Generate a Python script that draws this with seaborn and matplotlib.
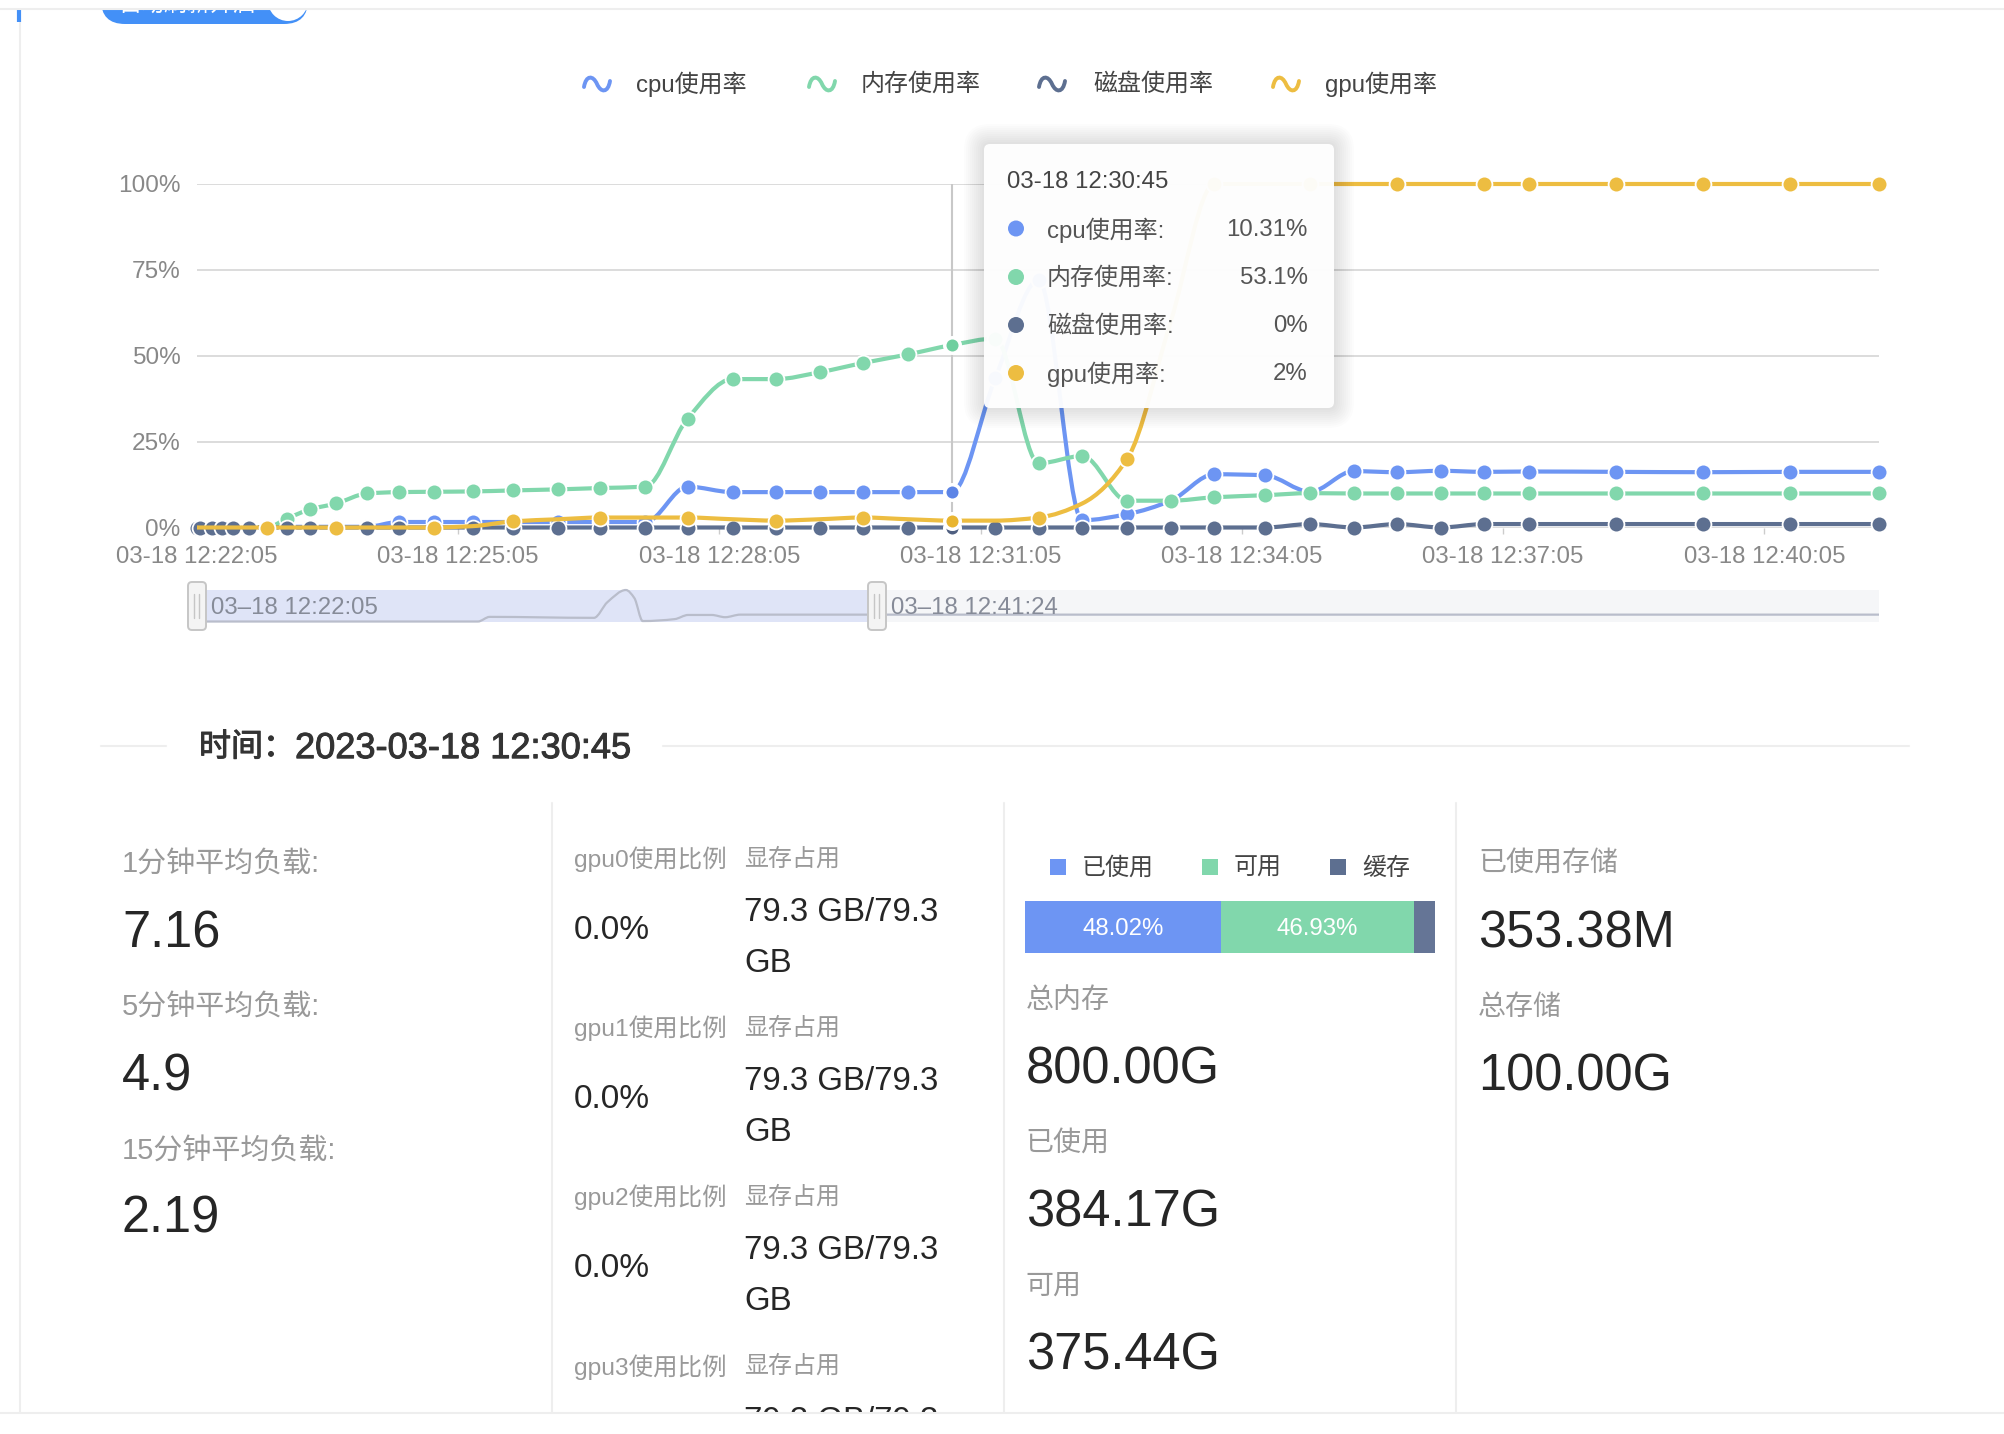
import matplotlib
matplotlib.use('Agg')
import matplotlib.pyplot as plt
import matplotlib.patheffects as pe
import pandas as pd
import seaborn as sns
from matplotlib.patches import FancyBboxPatch, PathPatch, Rectangle, Circle
from matplotlib.path import Path

W, H = 2004, 1434

# seconds after 12:22:05
times = [0, 2, 10, 17, 25, 36, 48, 62, 78, 96, 117, 139, 163, 190, 218, 249, 278, 309, 338, 369,
         399, 429, 459, 490, 520, 550, 580, 610, 641, 671, 701, 736, 767, 797, 827, 857, 887, 918,
         978, 1038, 1098, 1159]
cpu = [0, 0, 0, 0, 0, 0, 0, 0.2, 0.2, 0.2, 0.2, 1.6, 1.6, 1.6, 1.6, 1.6, 1.6, 1.6, 11.9, 10.3,
       10.3, 10.3, 10.3, 10.3, 10.31, 43.4, 72, 2.1, 3.9, 7.8, 15.5, 15.2, 10.4, 16.4, 16.1, 16.5,
       16.2, 16.3, 16.2, 16.1, 16.2, 16.2]
mem = [0, 0, 0, 0, 0, 0, 0, 2.6, 5.3, 7.0, 9.9, 10.3, 10.4, 10.5, 10.8, 11.1, 11.5, 11.9, 31.7,
       43.2, 43.2, 45.2, 47.9, 50.4, 53.1, 55, 18.7, 20.8, 7.8, 7.8, 8.8, 9.4, 10, 9.9, 9.9, 9.9,
       9.9, 9.9, 9.9, 9.9, 9.9, 9.9]
disk = [0] * 32 + [1, 0, 1, 0, 1, 1, 1, 1, 1, 1]
gpu = [0, 0, 0, 0, 0, 0, 0, 0, 0, 0, 0, 0, 0, 0.4, 1.8, 2.4, 2.9, 2.9, 2.9, 2.4, 2, 2.4, 2.9, 2.4,
       2, 2, 2.9, 7, 20, 60, 100, 100, 100, 100, 100, 100, 100, 100, 100, 100, 100, 100]
# gpu only shows a symbol on some samples
gpu_marked = [6, 9, 12, 14, 16, 18, 20, 22, 24, 26, 28, 30, 32, 34, 36, 37, 38, 39, 40, 41]
hover_idx = 24

x_ticks = [0, 180, 360, 540, 720, 900, 1080]
x_labels = ['03-18 12:22:05', '03-18 12:25:05', '03-18 12:28:05', '03-18 12:31:05',
            '03-18 12:34:05', '03-18 12:37:05', '03-18 12:40:05']
y_ticks = [0, 25, 50, 75, 100]
y_labels = ['0%', '25%', '50%', '75%', '100%']

series_names = ['cpu使用率', '内存使用率', '磁盘使用率', 'gpu使用率']
tooltip_values = ['10.31%', '53.1%', '0%', '2%']

# overview strip under the chart (percent along strip, percent of strip height)
preview_pos = [0, 16.7, 17.4, 23.6, 24.4, 25.5, 26, 26.5, 28.4, 29.2, 30.6, 31.4, 32.3, 39.9, 100]
preview_val = [1.5, 1.5, 16, 13, 62, 100, 75, 3, 9, 22, 22, 15, 23, 23, 23]

mem_used, mem_free, mem_cache = 48.02, 46.93, 5.05

BLUE = '#6d95f3'
GREEN = '#81d7ac'
DARK = '#5d6f90'
YELLOW = '#edbd41'
COLORS = [BLUE, GREEN, DARK, YELLOW]
HOVER_COLORS = ['#5c84e6', '#70cf9f', '#4f5f80', '#e9b52f']
GREY_LABEL = '#999999'
BLACK = '#262626'
FONT = ['Liberation Sans', 'Noto Sans CJK SC']

sns.set_theme(style='white')
plt.rcParams['font.family'] = FONT
plt.rcParams['axes.unicode_minus'] = False


def axes_px(fig, x0, y0, x1, y1, zorder=1):
    """Axes placed by pixel box, y counted from the top."""
    ax = fig.add_axes([x0 / W, 1 - y1 / H, (x1 - x0) / W, (y1 - y0) / H], zorder=zorder)
    ax.patch.set_alpha(0)
    return ax


def tangents(xs, ys):
    """Monotone tangents, flat at local peaks and at both ends."""
    n = len(xs)
    slopes = [(ys[i + 1] - ys[i]) / (xs[i + 1] - xs[i]) for i in range(n - 1)]
    out = [0.0] * n
    for i in range(1, n - 1):
        a, b = slopes[i - 1], slopes[i]
        if a * b > 0:
            h0, h1 = xs[i] - xs[i - 1], xs[i + 1] - xs[i]
            w0, w1 = 2 * h1 + h0, h1 + 2 * h0
            out[i] = (w0 + w1) / (w0 / a + w1 / b)
    return out


def smooth_path(xs, ys):
    """Bezier path through the samples."""
    m = tangents(xs, ys)
    verts = [(xs[0], ys[0])]
    codes = [Path.MOVETO]
    for i in range(len(xs) - 1):
        h = (xs[i + 1] - xs[i]) / 3
        verts += [(xs[i] + h, ys[i] + m[i] * h), (xs[i + 1] - h, ys[i + 1] - m[i + 1] * h),
                  (xs[i + 1], ys[i + 1])]
        codes += [Path.CURVE4] * 3
    return Path(verts, codes)


def label(ax, x, y, s, px, color=BLACK, ha='left', weight='normal', zorder=3):
    # y is the visual centre, text boxes sit a bit high
    return ax.text(x, y + px * 0.1, s, fontsize=px * 0.72, color=color, ha=ha, va='center',
                   fontweight=weight, zorder=zorder)


fig = plt.figure(figsize=(W / 100, H / 100), dpi=100, facecolor='white')

bg = axes_px(fig, 0, 0, W, H, zorder=0)
bg.set_xlim(0, W)
bg.set_ylim(H, 0)
bg.axis('off')

# page frame and the cut off switch at the top
bg.add_patch(FancyBboxPatch((101, -30), 207, 54, boxstyle='round,pad=0,rounding_size=24',
                            fc='#4390f7', ec='none', zorder=1))
bg.add_patch(Circle((288, 1), 20, fc='white', ec='none', zorder=2))
label(bg, 118, 2, '自动刷新开启', 23, color='white', zorder=2)
bg.add_patch(Rectangle((0, 0), W, 8, fc='white', ec='none', zorder=4))
bg.plot([0, W], [8.5, 8.5], color='#eeeeee', lw=1.5, zorder=5)
bg.plot([20, 20], [22, 1413], color='#eeeeee', lw=1.5, zorder=1)
bg.plot([19, 19], [9, 22], color='#4390f7', lw=3, zorder=1, solid_capstyle='butt')

# legend row
legend_icon_x = [584, 809, 1039, 1273]
legend_text_x = [636, 861, 1093, 1325]
for name, color, ix, tx in zip(series_names, COLORS, legend_icon_x, legend_text_x):
    yc = 84
    icon = Path([(ix, yc + 3), (ix + 2, yc - 9), (ix + 9, yc - 9), (ix + 13, yc),
                 (ix + 17, yc + 9), (ix + 24, yc + 9), (ix + 26, yc - 3)],
                [Path.MOVETO] + [Path.CURVE4] * 6)
    bg.add_patch(PathPatch(icon, fc='none', ec=color, lw=2.8, capstyle='round'))
    label(bg, tx, yc - 2, name, 24, color='#444444')

# main chart
ax = axes_px(fig, 197, 184, 1879, 527.5, zorder=1)
ax.set_xlim(0, 1159)
ax.set_ylim(0, 100)
ax.set_xticks(x_ticks)
ax.set_xticklabels(x_labels)
ax.set_yticks(y_ticks)
ax.set_yticklabels(y_labels)
ax.tick_params(axis='x', length=4, width=1, color='#cccccc', labelsize=17.3, labelcolor='#888888',
               pad=9, bottom=True)
ax.tick_params(axis='y', length=0, labelsize=17.6, labelcolor='#888888', pad=12)
ax.grid(axis='y', color='#dcdcdc', lw=1.4)
ax.grid(axis='x', visible=False)
ax.set_axisbelow(True)
sns.despine(ax=ax, left=True, bottom=True)
ax.axvline(times[hover_idx], color='#c8c8c8', lw=1.5, zorder=1)

frames = {}
for name, values in zip(series_names, [cpu, mem, disk, gpu]):
    frames[name] = pd.DataFrame({'time': times, 'value': values})

for i, (name, color, hover) in enumerate(zip(series_names, COLORS, HOVER_COLORS)):
    df = frames[name]
    base = 3 + i * 2
    ax.add_patch(PathPatch(smooth_path(df['time'].tolist(), df['value'].tolist()), fc='none', ec=color,
                           lw=3.0, clip_on=False, zorder=base))
    shown = df.iloc[gpu_marked] if name == 'gpu使用率' else df
    sns.scatterplot(data=shown.drop(index=hover_idx), x='time', y='value', ax=ax, color=color, s=130,
                    edgecolor='white', linewidth=1.3, clip_on=False, zorder=base + 1, legend=False)
    sns.scatterplot(data=df.iloc[[hover_idx]], x='time', y='value', ax=ax, color=hover, s=125,
                    edgecolor='white', linewidth=2.5, clip_on=False, zorder=base + 1, legend=False)
ax.set_xlabel('')
ax.set_ylabel('')

# overview strip
strip = axes_px(fig, 197, 590, 1879, 622, zorder=2)
strip.set_xlim(0, 100)
strip.set_ylim(0, 100)
strip.axis('off')
strip.axvspan(0, 100, color='#f5f6f8', lw=0)
strip.axvspan(0, 40.4, color='#dfe4f7', lw=0)
strip.add_patch(PathPatch(smooth_path(preview_pos, preview_val), fc='none', ec='#b9bdcb', lw=1.6,
                          clip_on=False))

fg = axes_px(fig, 0, 0, W, H, zorder=5)
fg.set_xlim(0, W)
fg.set_ylim(H, 0)
fg.axis('off')

for hx0, hx1 in [(188, 206), (868, 886)]:
    fg.add_patch(FancyBboxPatch((hx0, 582), hx1 - hx0, 48, boxstyle='round,pad=0,rounding_size=4',
                                fc='#f4f4f4', ec='#c6c6c6', lw=1.4))
    mid = (hx0 + hx1) / 2
    fg.plot([mid - 2.5, mid - 2.5], [594, 618], color='#c6c6c6', lw=1)
    fg.plot([mid + 2.5, mid + 2.5], [594, 618], color='#c6c6c6', lw=1)
label(fg, 211, 606, '03–18 12:22:05', 24, color='#868b98')
label(fg, 891, 606, '03–18 12:41:24', 24, color='#868b98')

# tooltip with a soft shadow
tx0, ty0, tx1, ty1 = 984, 144, 1334, 408
for grow in range(2, 22, 2):
    fg.add_patch(FancyBboxPatch((tx0 - grow, ty0 - grow), tx1 - tx0 + 2 * grow, ty1 - ty0 + 2 * grow,
                                boxstyle='round,pad=0,rounding_size=%d' % (6 + grow), fc='black', ec='none',
                                alpha=0.012))
fg.add_patch(FancyBboxPatch((tx0, ty0), tx1 - tx0, ty1 - ty0, boxstyle='round,pad=0,rounding_size=6',
                            fc='white', ec='none', alpha=0.96))
label(fg, 1007, 180, '03-18 12:30:45', 24, color='#444444')
row_y = [228.5, 277, 325, 373]
for name, value, color, ry in zip(series_names, tooltip_values, COLORS, row_y):
    fg.add_patch(Circle((1016, ry), 8, fc=color, ec='none'))
    label(fg, 1047, ry - 1, name + ':', 24, color='#555555')
    label(fg, 1308, ry - 1, value, 24, color='#555555', ha='right')

# section heading
bg.plot([101, 166], [746, 746], color='#eeeeee', lw=1.5)
bg.plot([663, 1909], [746, 746], color='#eeeeee', lw=1.5)
medium = [pe.withStroke(linewidth=0.7, foreground='#333333')]
label(bg, 199, 745, '时间：', 32, color='#333333').set_path_effects(medium)
label(bg, 295, 745, '2023-03-18 12:30:45', 36.2, color='#333333').set_path_effects(medium)

for sx in [552, 1004.5, 1456.5]:
    bg.plot([sx, sx], [803, 1413], color='#eeeeee', lw=1.5)

# load column
load_labels = ['1分钟平均负载:', '5分钟平均负载:', '15分钟平均负载:']
load_values = ['7.16', '4.9', '2.19']
for text, value, ly, vy in zip(load_labels, load_values, [862, 1005, 1148.5], [928.5, 1071.5, 1214]):
    label(bg, 122, ly, text, 29, color=GREY_LABEL)
    label(bg, 122, vy, value, 50.5, color=BLACK)

# gpu column
gpu_rows = ['gpu0使用比例', 'gpu1使用比例', 'gpu2使用比例', 'gpu3使用比例']
gpu_ratio = '0.0%'
gpu_mem_line1 = '79.3 GB/79.3'
gpu_mem_line2 = 'GB'
for k, (text, gy) in enumerate(zip(gpu_rows, [857, 1026, 1195, 1364.5])):
    label(bg, 574, gy, text, 24.5, color=GREY_LABEL)
    label(bg, 744, gy, '显存占用', 24, color=GREY_LABEL)
    if k < 3:
        label(bg, 574, gy + 70.5, gpu_ratio, 33.5, color=BLACK)
        label(bg, 744, gy + 52.5, gpu_mem_line1, 33, color=BLACK)
        label(bg, 744, gy + 103, gpu_mem_line2, 33, color=BLACK)
    else:
        label(bg, 744, gy + 54, gpu_mem_line1, 33, color=BLACK)

# memory column
for (sq, tx), text, color in zip([(1050, 1082), (1202, 1234), (1330, 1362)], ['已使用', '可用', '缓存'],
                                 [BLUE, GREEN, DARK]):
    bg.add_patch(Rectangle((sq, 859), 16, 16, fc=color, ec='none'))
    label(bg, tx, 866, text, 24, color='#444444')

bar = axes_px(fig, 1024.5, 901, 1434.5, 953, zorder=1)
# stacked bar: longest total first, shorter totals on top
sns.barplot(x=[mem_used + mem_free + mem_cache], y=['mem'], color='#657596', saturation=1, width=1,
            linewidth=0, ax=bar)
sns.barplot(x=[mem_used + mem_free], y=['mem'], color=GREEN, saturation=1, width=1, linewidth=0, ax=bar)
sns.barplot(x=[mem_used], y=['mem'], color=BLUE, saturation=1, width=1, linewidth=0, ax=bar)
bar.set_xlim(0, 100)
bar.set_ylim(0.5, -0.5)
bar.axis('off')
bar.text(mem_used / 2, 0.03, '%.2f%%' % mem_used, color='white', fontsize=17.3, ha='center', va='center')
bar.text(mem_used + mem_free / 2, 0.03, '%.2f%%' % mem_free, color='white', fontsize=17.3, ha='center',
         va='center')

for text, value, ly, vy in zip(['总内存', '已使用', '可用'], ['800.00G', '384.17G', '375.44G'],
                               [998, 1141, 1284], [1064.5, 1208, 1350.5]):
    label(bg, 1025.5, ly, text, 28, color=GREY_LABEL)
    label(bg, 1026, vy, value, 50.5, color=BLACK)

# storage column
for text, value, ly, vy in zip(['已使用存储', '总存储'], ['353.38M', '100.00G'], [862, 1005], [928.5, 1071.5]):
    label(bg, 1478, ly, text, 28, color=GREY_LABEL)
    label(bg, 1478, vy, value, 50.5, color=BLACK)

# page ends here, everything below is cut off
bg.add_patch(Rectangle((0, 1413), W, 21, fc='white', ec='none', zorder=4))
bg.plot([0, W], [1413, 1413], color='#eeeeee', lw=1.5, zorder=5)

fig.savefig('out.png', dpi=100)
plt.close(fig)
